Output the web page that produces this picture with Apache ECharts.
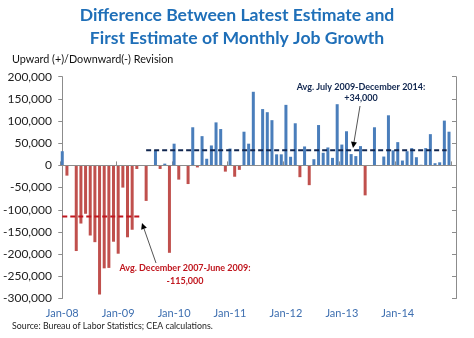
<!DOCTYPE html>
<html>
<head>
<meta charset="utf-8">
<script src="https://cdn.jsdelivr.net/npm/echarts@6/dist/echarts.min.js"></script>
<style>
html,body{margin:0;padding:0;background:#fff;}
#chart{width:474px;height:338px;}
</style>
</head>
<body>
<div id="chart"></div>
<script>
// ---- data ----
const monthNames = ['Jan','Feb','Mar','Apr','May','Jun','Jul','Aug','Sep','Oct','Nov','Dec'];
const categories = [];
for (let y = 8; y <= 15; y++) {
  for (let m = 0; m < 12; m++) {
    if (y === 15 && m > 0) break;
    categories.push(monthNames[m] + '-' + String(y).padStart(2, '0'));
  }
}
const tickLabels = ['Jan-08','Jan-09','Jan-10','Jan-11','Jan-12','Jan-13','Jan-14'];
const revisions = [
  32000, -23000, 0, -193000, -131000, -109000, -158000, -173000, -291000, -232000, -231000, -172000,
  -199000, -50000, -162000, -145000, -8000, 0, -80000, 0, 34000, -8000, 4000, -197000,
  49000, -32000, 0, -42000, 86000, -4500, 66000, 15000, 45000, 97000, 82000, -14000,
  38000, -25500, -10000, 76000, 49000, 166000, 0, 127000, 120000, 102000, 25000, 25000,
  136500, 19500, 95000, -26500, 42750, -44500, 14000, 91000, 28500, 40500, 17000, 138000,
  47000, 77000, 25500, 21000, 43500, -67500, 0, 86000, 0, 20000, 113000, 34000,
  52500, 11000, 32000, 39000, 18500, 1500, 39000, 70500, 5000, 7000, 101000, 76000,
  null
];
const avgRecession = -115000;
const avgRecovery = 34000;
const avgRecessionSpan = [0, 16.6];
const avgRecoverySpan = [18, 82.5];
const yTicks = { min: -300000, max: 200000, interval: 50000 };

// ---- chart ----
const BLUE = '#4A7EBB', RED = '#C0504D', AXIS = '#8C8C8C';
const FONT = 'Lato';
const chart = echarts.init(document.getElementById('chart'), null, { renderer: 'canvas' });

function arrow(x1, y1, x2, y2) {
  const ang = Math.atan2(y2 - y1, x2 - x1);
  const L = 6, W = 3;
  const bx = x2 - L * Math.cos(ang), by = y2 - L * Math.sin(ang);
  const px = -Math.sin(ang) * W, py = Math.cos(ang) * W;
  return [
    { type: 'line', shape: { x1, y1, x2: bx, y2: by }, style: { stroke: '#555', lineWidth: 1 }, silent: true },
    { type: 'polygon', shape: { points: [[x2, y2], [bx + px, by + py], [bx - px, by - py]] }, style: { fill: '#000' }, silent: true }
  ];
}

const option = {
  animation: false,
  backgroundColor: '#fff',
  textStyle: { fontFamily: FONT },
  grid: { left: 59.3, right: 18, top: 76.7, bottom: 39.5, containLabel: false },
  xAxis: [
    {
      type: 'category', data: categories, boundaryGap: true,
      axisLine: { show: true, lineStyle: { color: AXIS, width: 1 } },
      axisTick: { show: true, interval: 11, inside: true, length: 4, lineStyle: { color: AXIS } },
      axisLabel: {
        interval: 11, margin: 9, color: '#3E6FB0', fontSize: 11, fontFamily: FONT,
        formatter: (v, i) => (i % 12 === 0 && tickLabels[i / 12]) ? tickLabels[i / 12] : ''
      },
      splitLine: { show: false }
    },
    { type: 'value', min: -0.5, max: categories.length - 0.5, show: false }
  ],
  yAxis: [
    {
      type: 'value', min: yTicks.min, max: yTicks.max, interval: yTicks.interval,
      axisLine: { show: true, lineStyle: { color: AXIS } },
      axisTick: { show: true, inside: false, length: 4, lineStyle: { color: AXIS } },
      axisLabel: { margin: 8, color: '#222', fontSize: 12, fontFamily: FONT,
        formatter: v => v.toLocaleString('en-US') },
      splitLine: { show: false }
    },
    {
      type: 'value', position: 'right', min: yTicks.min, max: yTicks.max, interval: yTicks.interval,
      axisLine: { show: true, lineStyle: { color: AXIS } },
      axisTick: { show: true, inside: true, length: 4, lineStyle: { color: AXIS } },
      axisLabel: { show: false }, splitLine: { show: false }
    }
  ],
  series: [
    {
      type: 'bar', data: revisions, barWidth: 3, xAxisIndex: 0, yAxisIndex: 0,
      itemStyle: { color: p => (p.value >= 0 ? BLUE : RED) },
      markLine: {
        silent: true, symbol: 'none', label: { show: false },
        lineStyle: { color: AXIS, type: 'solid', width: 1 },
        data: [{ yAxis: 0 }]
      },
      z: 2
    },
    {
      type: 'line', xAxisIndex: 1, yAxisIndex: 0, symbol: 'none', silent: true,
      data: [[avgRecessionSpan[0], avgRecession], [avgRecessionSpan[1], avgRecession]],
      lineStyle: { color: '#C0161E', width: 2, type: [5, 3] }, z: 5
    },
    {
      type: 'line', xAxisIndex: 1, yAxisIndex: 0, symbol: 'none', silent: true,
      data: [[avgRecoverySpan[0], avgRecovery], [avgRecoverySpan[1], avgRecovery]],
      lineStyle: { color: '#10264F', width: 2, type: [5, 3] }, z: 5
    }
  ],
  graphic: [
    { type: 'text', left: 'center', top: 4, style: { text: 'Difference Between Latest Estimate and\nFirst Estimate of Monthly Job Growth',
      fill: '#1F6FB8', font: 'bold 17.6px ' + FONT, textAlign: 'center', lineHeight: 23 } },
    { type: 'text', left: 12, top: 54, style: { text: 'Upward (+)/Downward(-) Revision', fill: '#111', font: '10.8px ' + FONT } },
    { type: 'text', left: 12, top: 322, style: { text: 'Source: Bureau of Labor Statistics; CEA calculations.', fill: '#222', font: '8.8px ' + FONT } },
    { type: 'text', x: 185, y: 262, style: { text: 'Avg. December 2007-June 2009:\n-115,000', fill: '#C0161E',
      font: 'bold 9px ' + FONT, textAlign: 'center', lineHeight: 12.5 } },
    { type: 'text', x: 361, y: 82, style: { text: 'Avg. July 2009-December 2014:\n+34,000', fill: '#10264F',
      font: 'bold 9px ' + FONT, textAlign: 'center', lineHeight: 11 } },
    ...arrow(156, 263, 142, 223),
    ...arrow(360, 106, 353, 148)
  ]
};
chart.setOption(option);
</script>
</body>
</html>
